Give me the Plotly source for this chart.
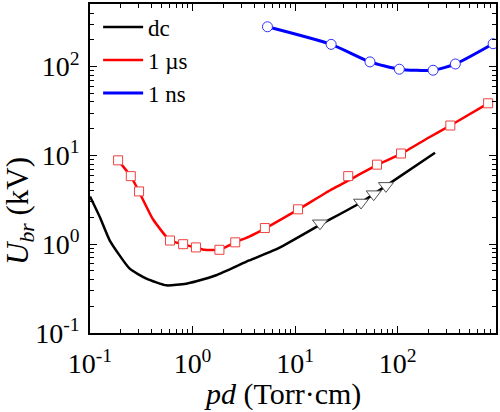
import plotly.graph_objects as go

# dc breakdown curve and measured points
dc_line_pd = [0.1, 0.125, 0.156, 0.244, 0.355, 0.556, 0.87, 1.09, 1.70, 3.57, 7.0, 17.5, 44, 77, 232]
dc_line_u = [3.45, 2.01, 1.10, 0.53, 0.41, 0.344, 0.359, 0.382, 0.447, 0.656, 0.91, 1.65, 2.95, 4.54, 10.7]
dc_pts_pd = [17.5, 44, 58.5, 77]
dc_pts_u = [1.72, 2.95, 3.66, 4.54]

# 1 us pulse
us_line_pd = [0.188, 0.25, 0.30, 0.41, 0.60, 0.82, 1.09, 1.31, 1.83, 2.61, 3.57, 5.08, 10.7, 20, 33, 63, 108, 200, 327, 764]
us_line_u = [8.8, 5.84, 3.93, 1.92, 1.10, 0.995, 0.91, 0.865, 0.865, 1.05, 1.22, 1.50, 2.45, 3.8, 5.2, 7.8, 10.4, 15.8, 21.7, 38.6]
us_pts_pd = [0.188, 0.25, 0.301, 0.603, 0.81, 1.08, 1.83, 2.61, 5.08, 10.7, 33, 63, 108, 327, 764]
us_pts_u = [8.8, 5.84, 3.93, 1.10, 1.0, 0.92, 0.865, 1.05, 1.52, 2.47, 5.84, 7.87, 10.5, 21.7, 38.6]

# 1 ns pulse
ns_pd = [5.38, 22.5, 53.8, 104, 222, 366, 855]
ns_u = [281, 178, 113, 93.5, 91, 107, 181]

x_tickvals = [0.1, 1, 10, 100]
y_tickvals = [0.1, 1, 10, 100]
tick_text = ['10<sup>-1</sup>', '10<sup>0</sup>', '10<sup>1</sup>', '10<sup>2</sup>']

minor_vals = [m * 10 ** e for e in range(-2, 4) for m in range(2, 10)]

SERIF = 'Liberation Serif, Times New Roman, Times, serif'

fig = go.Figure()

fig.add_trace(go.Scatter(x=dc_line_pd, y=dc_line_u, mode='lines', name='dc',
                         line=dict(color='black', width=2.5, shape='spline', smoothing=0.5)))
fig.add_trace(go.Scatter(x=us_line_pd, y=us_line_u, mode='lines', name='1 \u00b5s',
                         line=dict(color='#ff0000', width=2.5, shape='spline', smoothing=0.4)))
fig.add_trace(go.Scatter(x=ns_pd, y=ns_u, mode='lines', name='1 ns',
                         line=dict(color='#0000ff', width=3, shape='spline', smoothing=0.6)))

fig.add_trace(go.Scatter(x=dc_pts_pd, y=dc_pts_u, mode='markers', showlegend=False,
                         marker=dict(symbol='triangle-down', size=13, color='white',
                                     line=dict(color='#505050', width=1))))
fig.add_trace(go.Scatter(x=us_pts_pd, y=us_pts_u, mode='markers', showlegend=False,
                         marker=dict(symbol='square', size=9, color='white',
                                     line=dict(color='#f04040', width=1))))
fig.add_trace(go.Scatter(x=ns_pd, y=ns_u, mode='markers', showlegend=False,
                         marker=dict(symbol='circle', size=10, color='white',
                                     line=dict(color='#3030ff', width=1))))

axis_common = dict(
    type='log', showgrid=False, zeroline=False,
    showline=True, linecolor='black', linewidth=1.5, mirror='ticks',
    ticks='inside', ticklen=7, tickwidth=1.2, tickcolor='black',
    tickmode='array', ticktext=tick_text,
    minor=dict(tickmode='array', tickvals=minor_vals, ticks='inside', ticklen=4,
               tickwidth=1, tickcolor='black', showgrid=False),
    tickfont=dict(family=SERIF, size=28, color='black'),
)

fig.update_xaxes(axis_common, tickvals=x_tickvals, range=[-1, 2.96], ticklabelstandoff=5)
fig.update_yaxes(axis_common, tickvals=y_tickvals, range=[-1, 2.705], ticklabelstandoff=3)

# axis titles placed as paper annotations to match the original positions
fig.add_annotation(text='<i>pd</i> (Torr\u00b7cm)', xref='paper', yref='paper',
                   x=0.475, y=-0.186, xanchor='center', yanchor='middle', showarrow=False,
                   font=dict(family=SERIF, size=30, color='black'))
fig.add_annotation(text='<i>U</i><sub><i>br</i></sub> (kV)', xref='paper', yref='paper',
                   x=-0.174, y=0.372, xanchor='center', yanchor='middle', showarrow=False,
                   textangle=-90, font=dict(family=SERIF, size=31, color='black'))

fig.update_layout(
    width=500, height=412,
    margin=dict(l=90, r=2, t=2, b=79),
    plot_bgcolor='white', paper_bgcolor='white',
    font=dict(family=SERIF, color='black'),
    legend=dict(x=0.02, y=0.995, xanchor='left', yanchor='top',
                bgcolor='rgba(0,0,0,0)', borderwidth=0,
                font=dict(family=SERIF, size=23, color='black'),
                itemwidth=40, tracegroupgap=0),
)

fig.write_html('out.html', config={'displayModeBar': False},
               post_script="document.body.style.margin='0';")
